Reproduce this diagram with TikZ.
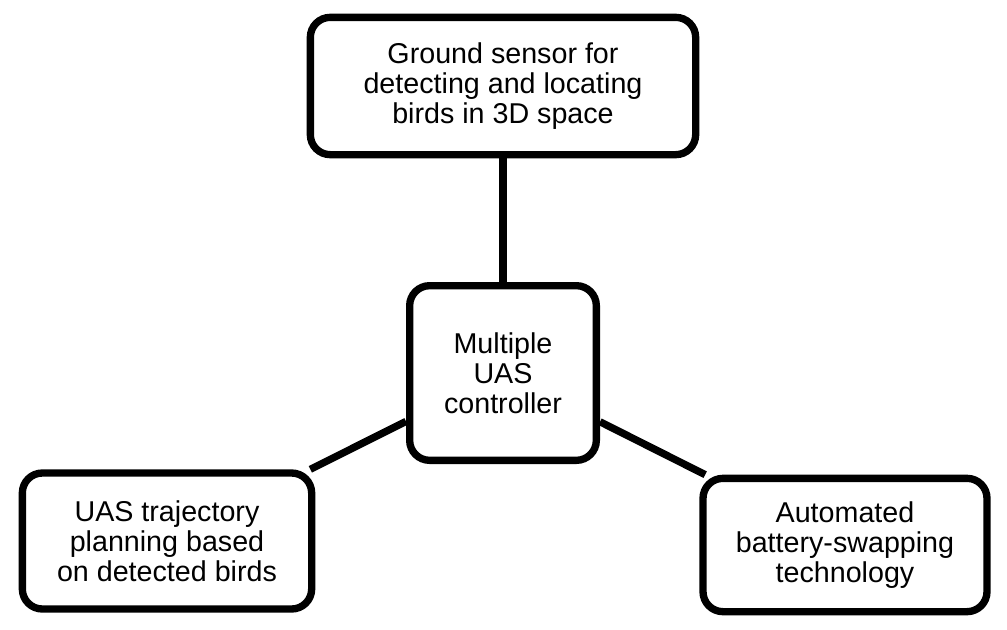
\documentclass[tikz,border=0pt]{standalone}
\usepackage{fontspec}
\setmainfont{Liberation Sans}
\usetikzlibrary{positioning}

\begin{document}
\begin{tikzpicture}[x=0.75pt,y=-0.75pt,
    box/.style={draw,line width=5.5pt,rounded corners=15pt,align=center,
      font=\fontsize{21.5pt}{22.5pt}\selectfont,inner sep=0pt},
    link/.style={line width=5.5pt}]
    \useasboundingbox (0,0) rectangle (1007,629);
    \node[box, minimum width=289pt, minimum height=103pt] (sensor) at (503,86)
        {Ground sensor for\\detecting and locating\\birds in 3D space};
    \node[box, minimum width=140pt, minimum height=131pt] (ctrl) at (503,373)
        {Multiple\\UAS\\controller};
    \node[box, minimum width=217pt, minimum height=102pt] (plan) at (167,541)
        {UAS trajectory\\planning based\\on detected birds};
    \node[box, minimum width=213pt, minimum height=100pt] (swap) at (845,545)
        {Automated\\battery-swapping\\technology};

    \draw[link] (sensor) -- (ctrl);
    \draw[link] (ctrl) -- (plan);
    \draw[link] (ctrl) -- (swap);
\end{tikzpicture}
\end{document}
